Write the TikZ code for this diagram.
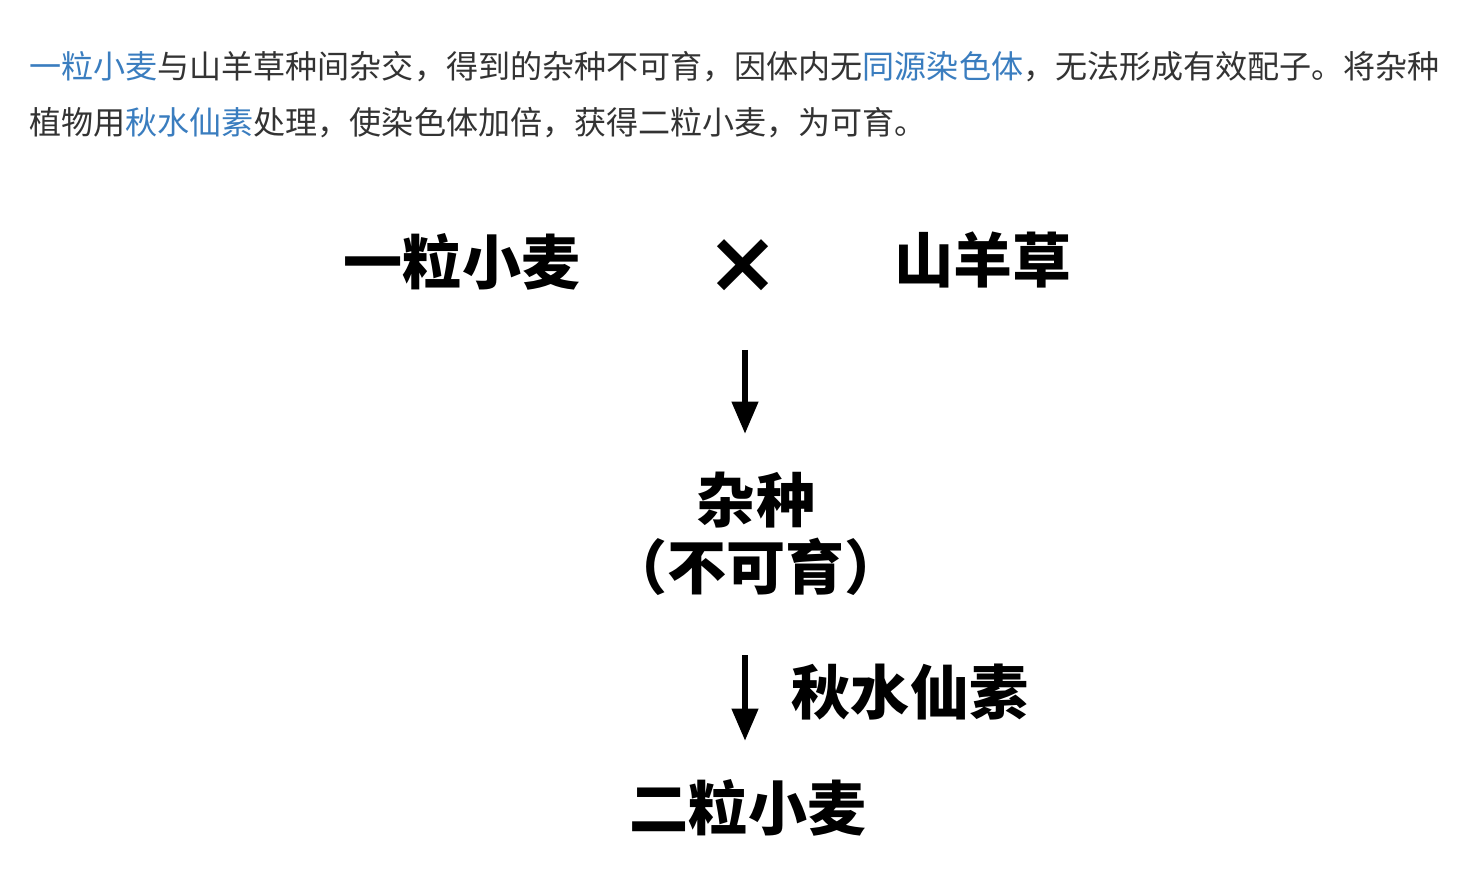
\documentclass[tikz,border=0pt]{standalone}
\usepackage{fontspec}
\newfontfamily\cjk{Noto Sans CJK SC}
\newfontfamily\sym{DejaVu Sans}
\usetikzlibrary{arrows.meta,positioning}
\definecolor{txt}{HTML}{333333}
\definecolor{link}{HTML}{3A7DBF}

\begin{document}
\begin{tikzpicture}[x=0.025cm,y=-0.025cm,
  para/.style = {anchor=west, inner sep=0, text=txt, font=\cjk\fontsize{22.8}{28}\selectfont},
  plant/.style = {inner sep=0, font=\cjk\bfseries\fontsize{42}{50}\selectfont},
  flow/.style = {line width=4.5pt, -{Triangle[width=18pt,length=23pt]}}]
  \useasboundingbox[fill=white] (0,0) rectangle (1460,872);

  % text above the picture
  \node (line1) [para] at (29,67) {\textcolor{link}{一粒小麦}与山羊草种间杂交，得到的杂种不可育，因体内无\textcolor{link}{同源染色体}，无法形成有效配子。将杂种};
  \node (line2) [para] at (29,123) {植物用\textcolor{link}{秋水仙素}处理，使染色体加倍，获得二粒小麦，为可育。};

  % the cross
  \node (einkorn) [plant] at (462,262) {一粒小麦};
  \node (cross) [plant,font=\sym\bfseries\fontsize{62}{62}\selectfont] at (743,266) {×};
  \node (goatgrass) [plant] at (983,260) {山羊草};
  \node (hybrid) [plant] at (756,500) {杂种};
  \node (sterile) [plant,below=7pt of hybrid] {（不可育）};
  \node (colch) [plant] at (910,692) {秋水仙素};
  \node (emmer) [plant] at (748,808) {二粒小麦};

  \coordinate (a1) at (745,350);
  \coordinate (b1) at (745,434);
  \coordinate (a2) at (745,655);
  \coordinate (b2) at (745,741);
  \draw[flow] (a1) -- (b1);
  \draw[flow] (a2) -- (b2);
\end{tikzpicture}
\end{document}
